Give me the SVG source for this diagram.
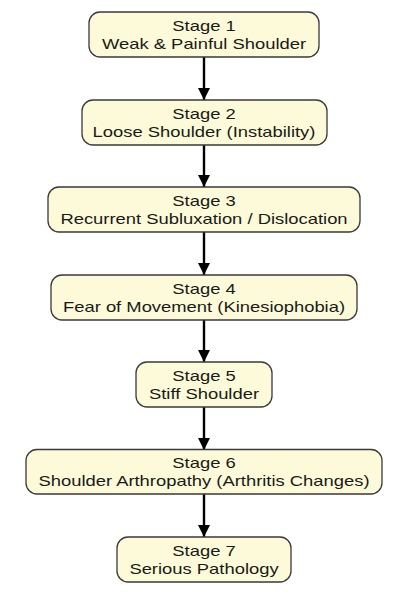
<svg xmlns="http://www.w3.org/2000/svg" width="407" height="597" viewBox="0 0 407 597">
<style>
.box{fill:#fcfad8;stroke:#3a3a3a;stroke-width:1.3}
.t{font-family:"Liberation Sans",Arial,sans-serif;font-size:15.4px;fill:#1a1a1a;text-anchor:middle}
.c{stroke:#000;stroke-width:2.4;fill:none}
</style>
<defs>
<marker id="ah" viewBox="0 0 12 13" refX="12" refY="6" markerWidth="12" markerHeight="13" markerUnits="userSpaceOnUse" orient="auto">
<path d="M0,0 L12,6 L0,12 Z" fill="#000"/>
</marker>
</defs>
<rect width="407" height="597" fill="#fff"/>
<g id="connectors">
<line class="c" x1="204" y1="57" x2="204" y2="100" marker-end="url(#ah)"/>
<line class="c" x1="204" y1="145" x2="204" y2="187" marker-end="url(#ah)"/>
<line class="c" x1="204" y1="232" x2="204" y2="275" marker-end="url(#ah)"/>
<line class="c" x1="204" y1="320" x2="204" y2="362" marker-end="url(#ah)"/>
<line class="c" x1="204" y1="407" x2="204" y2="450" marker-end="url(#ah)"/>
<line class="c" x1="204" y1="494" x2="204" y2="537" marker-end="url(#ah)"/>
</g>
<g id="stage1">
<rect class="box" x="89" y="12" width="230" height="45" rx="11"/>
<text class="t" transform="translate(204 31.3) scale(1.195 1)"><tspan x="0" y="0">Stage 1</tspan><tspan x="0" dy="17.3">Weak &amp; Painful Shoulder</tspan></text>
</g>
<g id="stage2">
<rect class="box" x="82" y="100" width="245" height="45" rx="11"/>
<text class="t" transform="translate(204 119.3) scale(1.195 1)"><tspan x="0" y="0">Stage 2</tspan><tspan x="0" dy="17.3">Loose Shoulder (Instability)</tspan></text>
</g>
<g id="stage3">
<rect class="box" x="48" y="187" width="312" height="45" rx="11"/>
<text class="t" transform="translate(204 206.3) scale(1.195 1)"><tspan x="0" y="0">Stage 3</tspan><tspan x="0" dy="17.3">Recurrent Subluxation / Dislocation</tspan></text>
</g>
<g id="stage4">
<rect class="box" x="51" y="275" width="306" height="45" rx="11"/>
<text class="t" transform="translate(204 294.3) scale(1.195 1)"><tspan x="0" y="0">Stage 4</tspan><tspan x="0" dy="17.3">Fear of Movement (Kinesiophobia)</tspan></text>
</g>
<g id="stage5">
<rect class="box" x="136" y="362" width="136" height="45" rx="11"/>
<text class="t" transform="translate(204 381.3) scale(1.195 1)"><tspan x="0" y="0">Stage 5</tspan><tspan x="0" dy="17.3">Stiff Shoulder</tspan></text>
</g>
<g id="stage6">
<rect class="box" x="26" y="449.5" width="356" height="44.5" rx="11"/>
<text class="t" transform="translate(204 468.3) scale(1.195 1)"><tspan x="0" y="0">Stage 6</tspan><tspan x="0" dy="17.3">Shoulder Arthropathy (Arthritis Changes)</tspan></text>
</g>
<g id="stage7">
<rect class="box" x="117" y="537" width="174" height="45" rx="11"/>
<text class="t" transform="translate(204 556.3) scale(1.195 1)"><tspan x="0" y="0">Stage 7</tspan><tspan x="0" dy="17.3">Serious Pathology</tspan></text>
</g>
</svg>
